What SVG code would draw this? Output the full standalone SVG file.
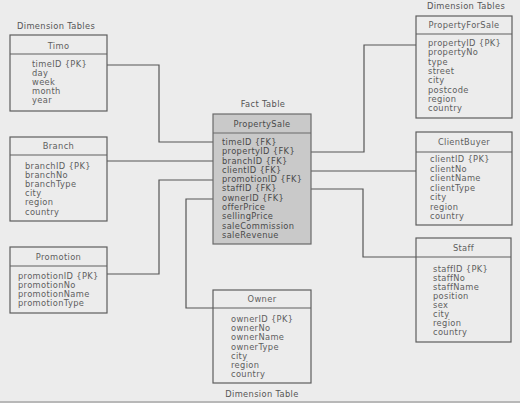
<svg xmlns="http://www.w3.org/2000/svg" width="520" height="403" viewBox="0 0 520 403">
<style>
text{font-family:"DejaVu Sans","Liberation Sans",sans-serif;font-size:8.3px;letter-spacing:0.35px;fill:#5e5e5e}
.t{text-anchor:middle}
.box{fill:#ececec;stroke:#5e5e5e;stroke-width:1.2}
.fact{fill:#c9c9c9;stroke:#6a6a6a;stroke-width:1.2}
.f text{fill:#4a4a4a}
.c{fill:none;stroke:#555;stroke-width:1.2}
.lbl{fill:#555}
</style>
<rect width="520" height="403" fill="#ececec"/>
<line x1="0" y1="402" x2="520" y2="402" stroke="#b8b8b8" stroke-width="2"/>

<text class="lbl" x="17" y="29">Dimension Tables</text>
<text class="lbl t" x="466" y="9">Dimension Tables</text>
<text class="lbl t" x="263" y="107">Fact Table</text>
<text class="lbl t" x="262" y="397">Dimension Table</text>

<g id="connectors">
<polyline class="c" points="107,65 159,65 159,142 213,142"/>
<polyline class="c" points="107,161 213,161"/>
<polyline class="c" points="107,274 159,274 159,180 213,180"/>
<polyline class="c" points="213,199 186,199 186,308 213,308"/>
<polyline class="c" points="416,45 364,45 364,152 311,152"/>
<polyline class="c" points="311,171 416,171"/>
<polyline class="c" points="311,189 363,189 363,257 416,257"/>
</g>

<g id="time">
<rect class="box" x="10" y="35" width="97" height="76"/>
<line class="box" x1="10" y1="54" x2="107" y2="54"/>
<text class="t" x="58.5" y="48.5">Timo</text>
<text x="32" y="67">timeID {PK}</text>
<text x="32" y="76">day</text>
<text x="32" y="85">week</text>
<text x="32" y="94">month</text>
<text x="32" y="103">year</text>
</g>

<g id="branch">
<rect class="box" x="10" y="137" width="97" height="84"/>
<line class="box" x1="10" y1="155" x2="107" y2="155"/>
<text class="t" x="58.5" y="149">Branch</text>
<text x="25" y="169">branchID {PK}</text>
<text x="25" y="178">branchNo</text>
<text x="25" y="187">branchType</text>
<text x="25" y="196">city</text>
<text x="25" y="205">region</text>
<text x="25" y="214.5">country</text>
</g>

<g id="promotion">
<rect class="box" x="10" y="247" width="97" height="66"/>
<line class="box" x1="10" y1="266" x2="107" y2="266"/>
<text class="t" x="58.5" y="260">Promotion</text>
<text x="18" y="279">promotionID {PK}</text>
<text x="18" y="288">promotionNo</text>
<text x="18" y="297">promotionName</text>
<text x="18" y="306">promotionType</text>
</g>

<g id="propertysale" class="f">
<rect class="fact" x="213" y="114" width="98" height="130"/>
<line class="fact" x1="213" y1="133" x2="311" y2="133"/>
<text class="t" x="262" y="127">PropertySale</text>
<text x="222" y="145">timeID {FK}</text>
<text x="222" y="154.2">propertyID {FK}</text>
<text x="222" y="163.5">branchID {FK}</text>
<text x="222" y="172.8">clientID {FK}</text>
<text x="222" y="182.1">promotionID {FK}</text>
<text x="222" y="191.4">staffID {FK}</text>
<text x="222" y="200.7">ownerID {FK}</text>
<text x="222" y="210">offerPrice</text>
<text x="222" y="219.3">sellingPrice</text>
<text x="222" y="228.6">saleCommission</text>
<text x="222" y="237.9">saleRevenue</text>
</g>

<g id="owner">
<rect class="box" x="213" y="290" width="98" height="93"/>
<line class="box" x1="213" y1="308" x2="311" y2="308"/>
<text class="t" x="262" y="302">Owner</text>
<text x="231" y="322">ownerID {PK}</text>
<text x="231" y="331.2">ownerNo</text>
<text x="231" y="340.4">ownerName</text>
<text x="231" y="349.6">ownerType</text>
<text x="231" y="358.8">city</text>
<text x="231" y="368">region</text>
<text x="231" y="377.2">country</text>
</g>

<g id="propertyforsale">
<rect class="box" x="416" y="16" width="96" height="102"/>
<line class="box" x1="416" y1="34" x2="512" y2="34"/>
<text class="t" x="464" y="28">PropertyForSale</text>
<text x="428" y="46">propertyID {PK}</text>
<text x="428" y="55.3">propertyNo</text>
<text x="428" y="64.6">type</text>
<text x="428" y="73.9">street</text>
<text x="428" y="83.2">city</text>
<text x="428" y="92.5">postcode</text>
<text x="428" y="101.8">region</text>
<text x="428" y="111.1">country</text>
</g>

<g id="clientbuyer">
<rect class="box" x="416" y="132" width="96" height="93"/>
<line class="box" x1="416" y1="152" x2="512" y2="152"/>
<text class="t" x="464" y="145">ClientBuyer</text>
<text x="430" y="162">clientID {PK}</text>
<text x="430" y="171.5">clientNo</text>
<text x="430" y="181">clientName</text>
<text x="430" y="190.5">clientType</text>
<text x="430" y="200">city</text>
<text x="430" y="209.5">region</text>
<text x="430" y="219">country</text>
</g>

<g id="staff">
<rect class="box" x="416" y="238" width="95" height="104"/>
<line class="box" x1="416" y1="257" x2="511" y2="257"/>
<text class="t" x="463.5" y="251">Staff</text>
<text x="433" y="272">staffID {PK}</text>
<text x="433" y="281">staffNo</text>
<text x="433" y="290">staffName</text>
<text x="433" y="299">position</text>
<text x="433" y="308">sex</text>
<text x="433" y="317">city</text>
<text x="433" y="326">region</text>
<text x="433" y="335">country</text>
</g>
</svg>
